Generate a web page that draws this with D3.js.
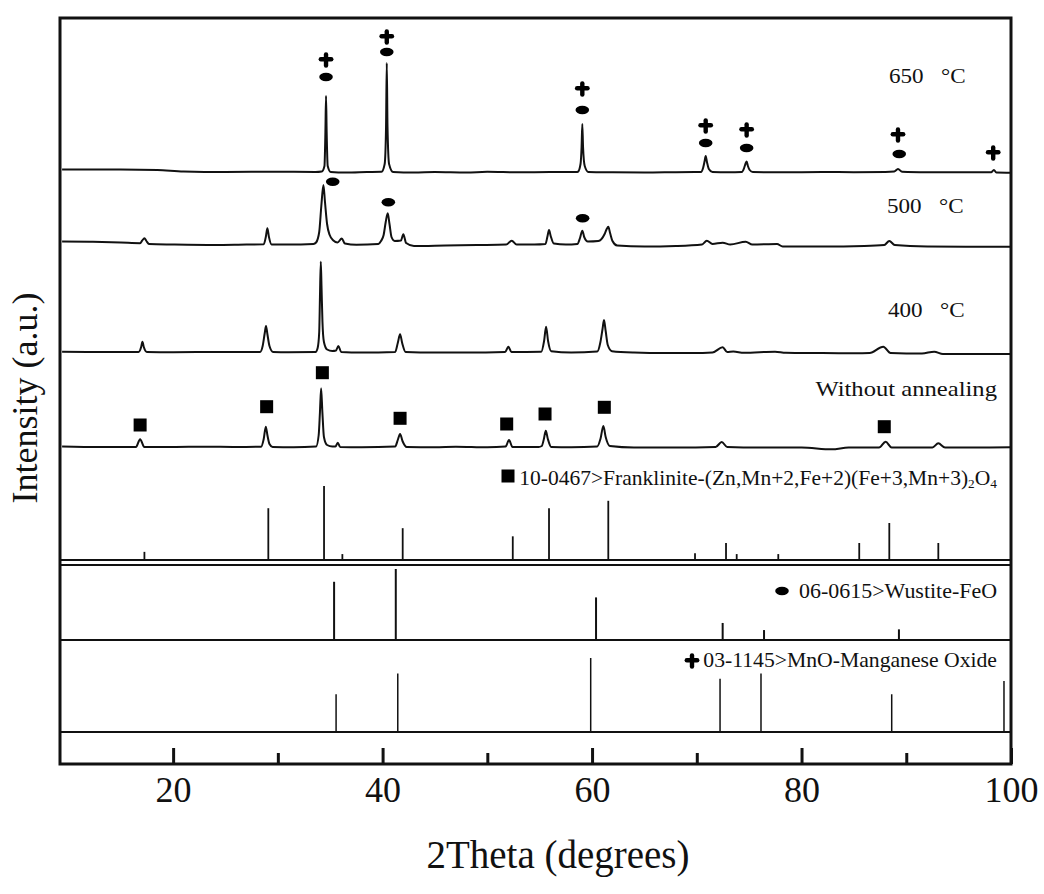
<!DOCTYPE html>
<html>
<head>
<meta charset="utf-8">
<script src="https://cdn.jsdelivr.net/npm/d3@7"></script>
<style>
body { margin: 0; background: #fff; }
svg { display: block; font-family: 'Liberation Serif', 'Times New Roman', serif; }
</style>
</head>
<body>
<svg id="chart"></svg>
<script>
// x axis (2theta, degrees)
let xDomain = [9.2, 100]
let majorTicks = [20, 40, 60, 80, 100]
let minorTicks = [30, 50, 70, 90]

let pattern650 = [
  [9.4,25],[15,25],[18.5,20],[21,5],[25,0],[30,3],[33.6,0],
  [34.2,5],[34.45,60],[34.54,400],[34.6,760],[34.66,400],[34.76,60],[35.05,0],
  [36.5,-5],[38.5,0],[39.9,3],
  [40.2,80],[40.33,450],[40.4,1090],[40.47,450],[40.62,80],[41.0,0],
  [43,-5],[45,0],[48,-5],[50,2],[53,-3],[56,0],[58.5,0],
  [58.65,3],[58.9,80],[59.0,250],[59.07,480],[59.14,250],[59.3,60],[59.65,0],
  [62,-3],[65,-5],[68,-2],[70.4,0],
  [70.6,40],[70.75,110],[70.85,160],[70.97,100],[71.15,30],[71.5,0],
  [73,-3],[74.3,0],
  [74.52,40],[74.66,85],[74.76,105],[74.88,60],[75.05,20],[75.35,0],
  [78,-3],[82,0],[85,-2],[88,0],[88.85,5],[89.21,30],[89.6,3],
  [92,-2],[95,-3],[98.1,-3],[98.37,20],[98.6,-5],[100,-7]
]
let pattern500 = [
  [9.4,25],[12,22],[15,15],[16.85,8],[17.05,35],[17.26,57],[17.45,30],[17.7,0],
  [20,-5],[24,-10],[27,-5],[28.65,-3],[28.85,70],[29.0,157],[29.15,70],[29.4,-5],
  [31,-5],[33.4,0],
  [33.65,15],[33.95,120],[34.15,380],[34.35,590],[34.5,420],[34.7,200],[34.95,90],[35.3,35],[35.7,15],[36.1,55],[36.4,5],
  [37.5,-8],[39.6,0],
  [39.85,30],[40.1,90],[40.3,220],[40.49,307],[40.66,200],[40.85,70],[41.15,30],
  [41.75,35],[41.98,97],[42.25,10],[43,-20],[46,-15],[49,-10],[51.8,-5],
  [52.33,33],[52.8,-5],[54.5,-5],[55.55,0],[55.75,80],[55.89,140],[56.05,80],[56.35,5],
  [57.5,-5],[58.6,0],[58.85,60],[59.07,133],[59.25,70],[59.6,25],
  [60.6,30],[61.2,100],[61.4,150],[61.55,173],[61.72,110],[61.95,30],[62.4,-15],
  [65,-25],[68,-20],[70.5,-5],[70.95,33],[71.5,0],[72.47,13],[73.2,-5],[74.67,23],[75.3,-5],
  [77.66,0],[78.2,-25],[82,-25],[86,-20],[87.9,-10],[88.38,30],[88.9,-10],[92,-25],[96,-27],[100,-27]
]
let pattern400 = [
  [9.4,3],[13,0],[16.7,0],[16.95,50],[17.07,103],[17.2,50],[17.5,0],
  [20,-3],[24,0],[28.3,0],[28.55,60],[28.75,190],[28.87,260],[29.0,180],[29.2,60],[29.55,0],
  [31,-2],[33.6,0],
  [33.8,40],[33.95,200],[34.02,550],[34.1,903],[34.17,650],[34.26,300],[34.4,100],[34.7,25],[35.2,10],
  [35.55,15],[35.78,60],[36.05,0],
  [38,-5],[41.2,0],[41.45,90],[41.67,177],[41.87,90],[42.2,0],
  [45,-5],[48,-5],[51.7,0],[52.01,53],[52.3,0],
  [55.15,3],[55.42,110],[55.61,253],[55.8,110],[56.1,8],
  [58,-5],[60.5,5],[60.8,100],[61.0,230],[61.14,320],[61.3,210],[61.5,70],[61.9,8],
  [64,-5],[67,-10],[69.64,-10],[71.5,-5],[72.47,47],[72.9,0],[73.49,5],[74.5,-8],[77.47,3],[78.5,-8],
  [82,-10],[85.1,-13],[86.5,-10],[87.81,53],[88.5,-10],[91.5,-15],[92.67,3],[93.5,-20],[96,-20],[100,-20]
]
let patternRaw = [
  [9.4,5],[13,0],[16.45,0],[16.85,77],[17.25,0],
  [20,0],[23,3],[26,0],[28.4,3],[28.65,80],[28.85,203],[29.0,120],[29.2,30],[29.5,0],
  [31.5,-3],[33.65,5],[33.9,120],[34.02,350],[34.13,587],[34.25,350],[34.4,100],[34.7,20],[35.2,5],
  [35.5,5],[35.72,43],[35.95,0],
  [38,-3],[41.2,5],[41.45,70],[41.67,130],[41.9,60],[42.3,0],
  [45,-3],[47,3],[50,-3],[51.75,5],[52.07,70],[52.4,0],
  [54.9,0],[55.2,10],[55.4,80],[55.58,163],[55.78,80],[56.1,0],
  [58,-3],[60.5,5],[60.8,80],[61.08,210],[61.3,100],[61.7,10],
  [64,-5],[68,-5],[71.8,0],[72.38,50],[72.9,0],
  [76,-5],[80,-5],[82.88,-23],[84.5,-5],[87.4,-5],[88.03,53],[88.6,-5],[92.5,-5],[93.06,37],[93.7,-5],[97,-5],[100,-3]
]
let sampleNames = ['650\u00a0\u00a0 °C', '500\u00a0\u00a0 °C', '400\u00a0\u00a0 °C', 'Without annealing']

// reference cards [2theta, relative intensity %]
let franklinite = [[17.26,11],[29.09,70],[34.41,100],[36.16,8],[41.92,43],[52.43,32],[55.89,70],[61.55,80],
  [69.83,9],[72.79,23],[73.81,8],[77.78,8],[85.51,23],[88.38,50],[93.06,23]]
let wustite = [[35.37,82],[41.26,100],[60.38,60],[72.47,24],[76.42,14],[89.30,15]]
let mno = [[35.56,51],[41.45,79],[59.87,100],[72.22,72],[76.13,79],[88.61,51],[99.33,69]]
let cardNames = ['10-0467>Franklinite-(Zn,Mn+2,Fe+2)(Fe+3,Mn+3)', '06-0615>Wustite-FeO', '03-1145>MnO-Manganese Oxide']

// phase marks [2theta, phase, intensity level]
let marks650 = [[34.6,'W',950],[34.6,'M',1120],[40.4,'W',1200],[40.4,'M',1350],[59.07,'W',620],[59.07,'M',830],
  [70.85,'W',290],[70.85,'M',460],[74.76,'W',240],[74.76,'M',420],[89.33,'W',180],[89.21,'M',370],[98.3,'M',190]]
let marks500 = [[35.24,'W',623],[40.55,'W',417],[59.1,'W',257]]
let marksRaw = [[16.85,'F',220],[28.93,'F',403],[34.25,'F',743],[41.67,'F',287],[51.85,'F',230],[55.51,'F',330],[61.17,'F',397],[87.9,'F',203]]

// ---- layout ----
let width = 1044, height = 894
let plotLeft = 60, plotRight = 1011, plotTop = 18, plotBottom = 764
let measured = [
  {data: pattern650, base: 172, marks: marks650, label: sampleNames[0], lx: 889, ly: 83, anchor: 'start', fs: 21, sx: 1.1},
  {data: pattern500, base: 244, marks: marks500, label: sampleNames[1], lx: 887, ly: 213, anchor: 'start', fs: 21, sx: 1.1},
  {data: pattern400, base: 352, marks: [], label: sampleNames[2], lx: 888, ly: 317, anchor: 'start', fs: 21, sx: 1.1},
  {data: patternRaw, base: 447, marks: marksRaw, label: sampleNames[3], lx: 997, ly: 396, anchor: 'end', fs: 22, sx: 1.12}
]
let cards = [
  {data: franklinite, base: 560, h: 74, sw: 1.8, phase: 'F', label: cardNames[0], ly: 485, w: 478, gap: 11, sy: 9},
  {data: wustite, base: 640, h: 71, sw: 2, phase: 'W', label: cardNames[1], ly: 598, w: 198, gap: 17, sy: 7},
  {data: mno, base: 732, h: 74, sw: 1.5, phase: 'M', label: cardNames[2], ly: 667, w: 294, gap: 11, sy: 6}
]

let svg = d3.select('#chart').attr('width', width).attr('height', height)

let xScale = d3.scaleLinear().domain(xDomain).range([plotLeft, plotRight])

const drawSymbol = (g, phase, cx, cy) => {
  if (phase === 'F') {
    g.append('rect').attr('x', cx - 6.5).attr('y', cy - 6.5).attr('width', 13).attr('height', 13).attr('fill', '#000')
  } else if (phase === 'W') {
    g.append('ellipse').attr('cx', cx).attr('cy', cy).attr('rx', 6.8).attr('ry', 4.2).attr('fill', '#000')
  } else {
    g.append('line').attr('x1', cx).attr('x2', cx).attr('y1', cy - 5.5).attr('y2', cy + 5.5)
      .attr('stroke', '#000').attr('stroke-width', 4.4).attr('stroke-linecap', 'round')
    g.append('line').attr('x1', cx - 5.2).attr('x2', cx + 5.2).attr('y1', cy - 0.8).attr('y2', cy - 0.8)
      .attr('stroke', '#000').attr('stroke-width', 4.4).attr('stroke-linecap', 'round')
  }
}

// measured patterns
measured.forEach(p => {
  let yScale = d3.scaleLinear().domain([0, 1000]).range([p.base, p.base - 100])
  let line = d3.line().x(d => xScale(d[0])).y(d => yScale(d[1])).curve(d3.curveMonotoneX)
  svg.append('path').datum(p.data)
    .attr('d', line).attr('fill', 'none').attr('stroke', '#111')
    .attr('stroke-width', 2).attr('stroke-linejoin', 'round')
  let mg = svg.append('g')
  p.marks.forEach(m => drawSymbol(mg, m[1], xScale(m[0]), yScale(m[2])))
  svg.append('text')
    .attr('transform', `translate(${p.lx},${p.ly}) scale(${p.sx},1)`)
    .attr('text-anchor', p.anchor).attr('font-size', p.fs).attr('fill', '#111')
    .text(p.label)
})

// reference cards
cards.forEach((c, i) => {
  let yScale = d3.scaleLinear().domain([0, 100]).range([c.base, c.base - c.h])
  svg.append('g').selectAll('line').data(c.data).enter().append('line')
    .attr('x1', d => xScale(d[0])).attr('x2', d => xScale(d[0]))
    .attr('y1', yScale(0)).attr('y2', d => yScale(d[1]))
    .attr('stroke', '#111').attr('stroke-width', c.sw)
  let t = svg.append('text')
    .attr('text-anchor', 'end').attr('font-size', 21).attr('fill', '#111')
  t.append('tspan').text(c.label)
  if (i === 0) {
    t.append('tspan').attr('font-size', 13).attr('dy', 3).text('2')
    t.append('tspan').attr('dy', -3).text('O')
    t.append('tspan').attr('font-size', 13).attr('dy', 3).text('4')
  }
  let sx = c.w / t.node().getComputedTextLength()
  t.attr('transform', `translate(997,${c.ly}) scale(${sx},1)`)
  drawSymbol(svg.append('g'), c.phase, 997 - c.w - c.gap, c.ly - c.sy)
})

// panel separator lines
svg.append('g').selectAll('line').data([560, 565, 640, 732]).enter().append('line')
  .attr('x1', plotLeft).attr('x2', plotRight).attr('y1', d => d).attr('y2', d => d)
  .attr('stroke', '#111').attr('stroke-width', 2)

// frame
svg.append('rect').attr('x', plotLeft).attr('y', plotTop)
  .attr('width', plotRight - plotLeft).attr('height', plotBottom - plotTop)
  .attr('fill', 'none').attr('stroke', '#111').attr('stroke-width', 3)

// axis
let xAxis = d3.axisBottom(xScale).tickValues(majorTicks).tickSize(-16).tickSizeOuter(0).tickPadding(12)
let gx = svg.append('g').attr('transform', `translate(0,${plotBottom})`).call(xAxis)
gx.select('.domain').remove()
gx.selectAll('.tick line').attr('stroke', '#111').attr('stroke-width', 3)
gx.selectAll('.tick text').attr('font-family', 'Liberation Serif').attr('font-size', 36).attr('fill', '#111')

let xMinor = d3.axisBottom(xScale).tickValues(minorTicks).tickSize(-11).tickSizeOuter(0).tickFormat('')
let gm = svg.append('g').attr('transform', `translate(0,${plotBottom})`).call(xMinor)
gm.select('.domain').remove()
gm.selectAll('.tick line').attr('stroke', '#111').attr('stroke-width', 3)

// axis titles
svg.append('text').attr('x', 558).attr('y', 868).attr('text-anchor', 'middle')
  .attr('font-size', 39).attr('fill', '#111').text('2Theta (degrees)')
svg.append('text').attr('transform', 'translate(37,398) rotate(-90)').attr('text-anchor', 'middle')
  .attr('font-size', 36).attr('fill', '#111').text('Intensity (a.u.)')
</script>
</body>
</html>
